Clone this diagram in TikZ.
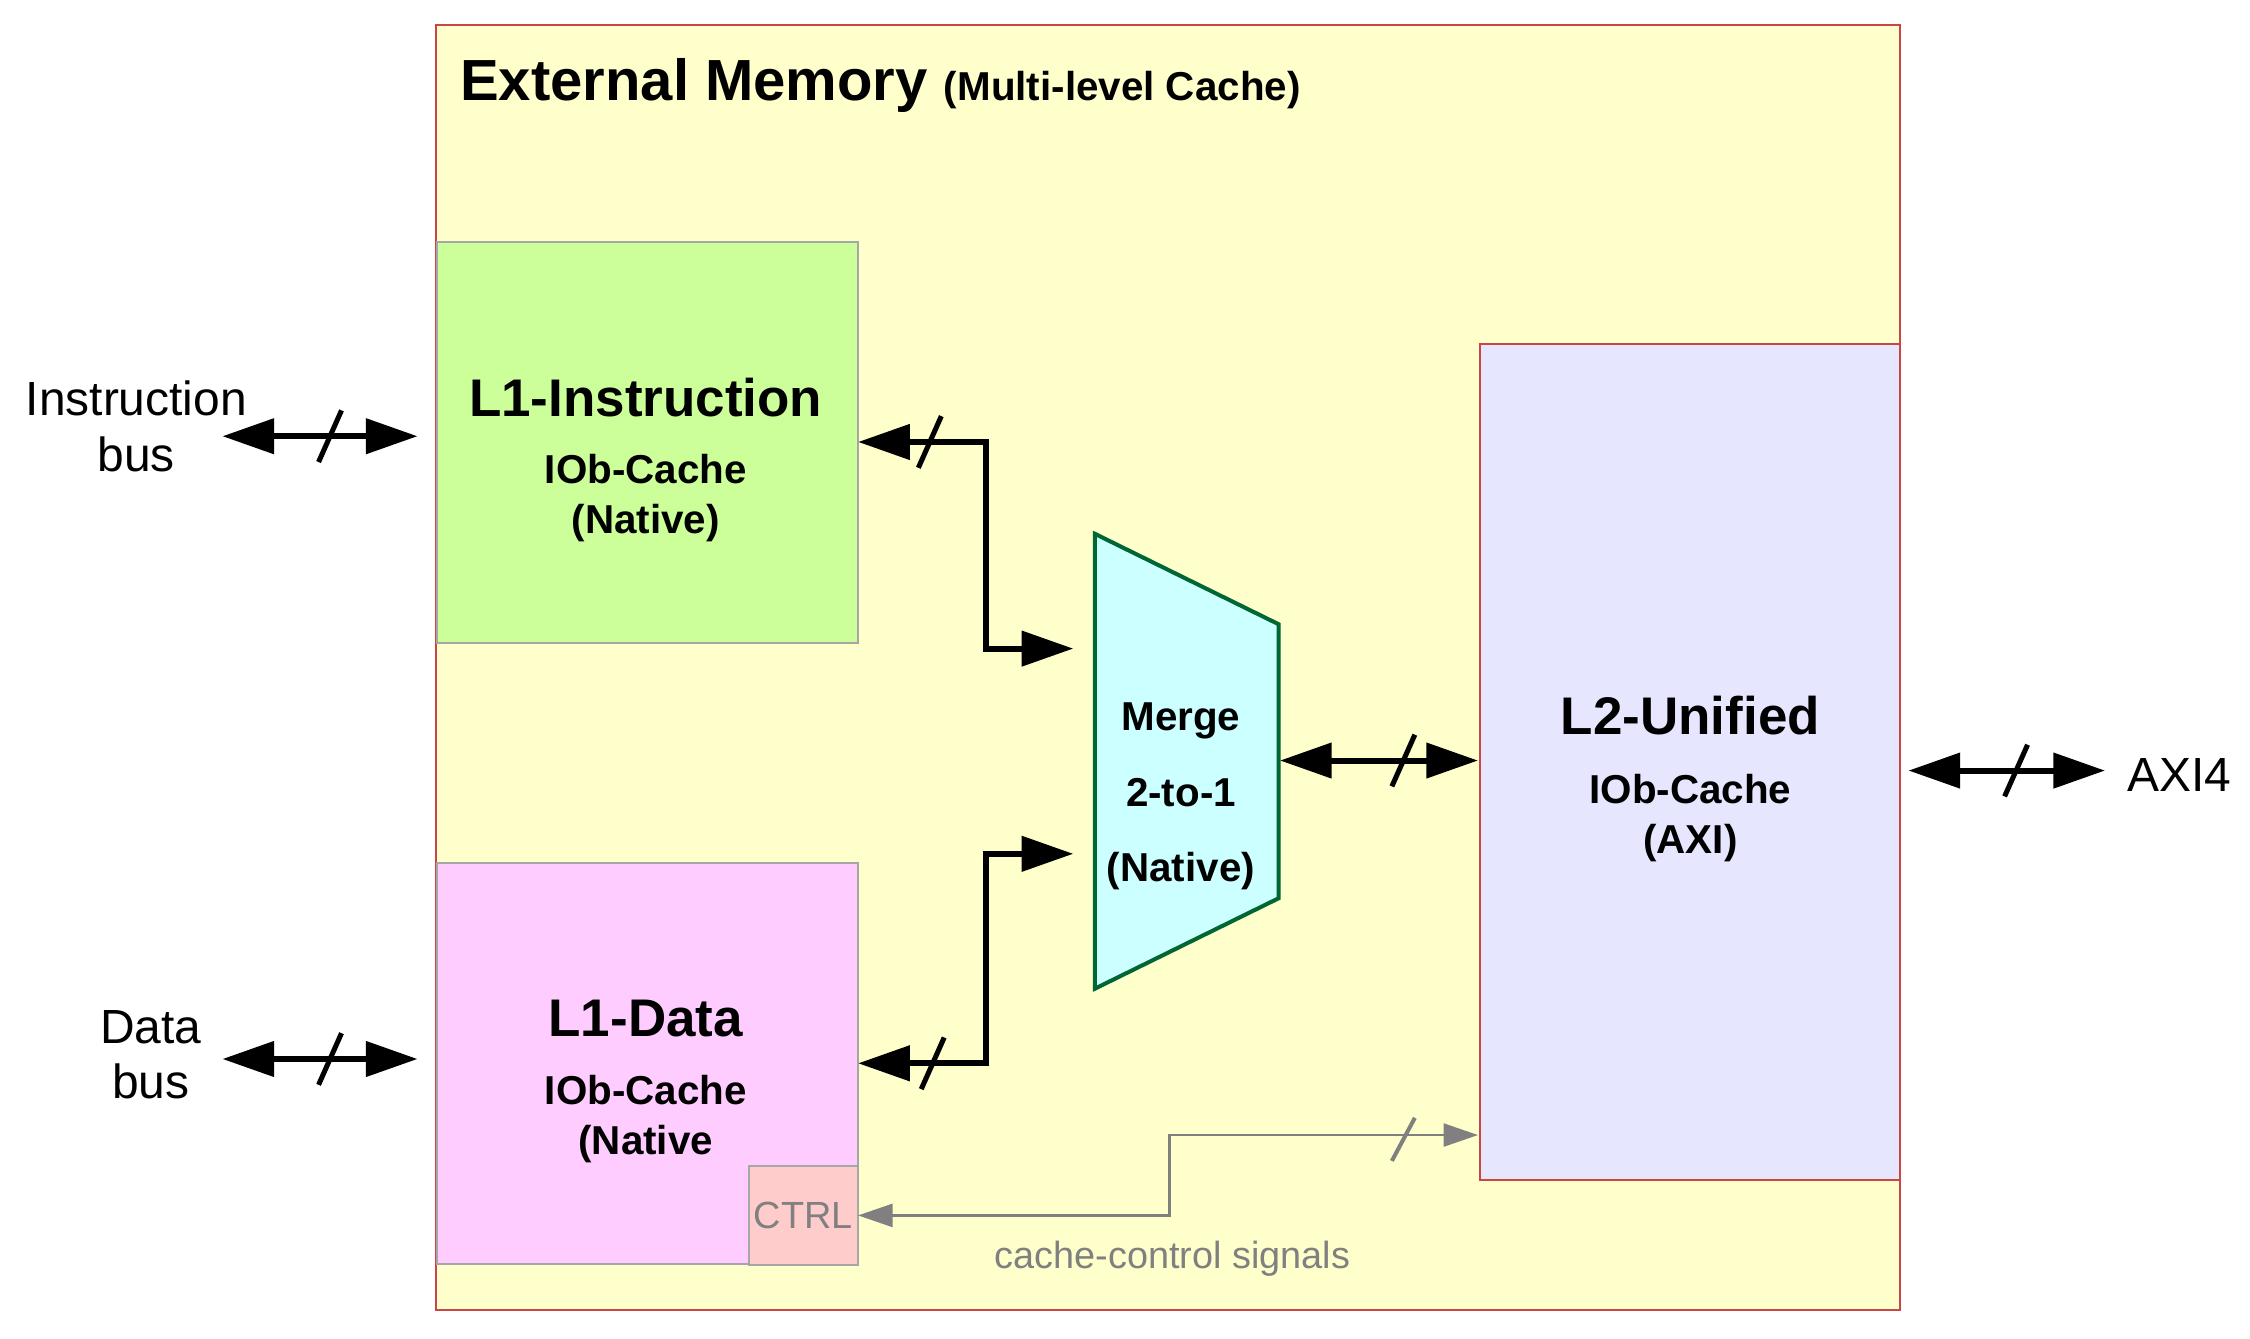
\documentclass[tikz,border=0pt]{standalone}
\usepackage{fontspec}
\setmainfont{Liberation Sans}
\usetikzlibrary{arrows.meta}
\definecolor{ybg}{HTML}{FFFFCC}
\definecolor{l1i}{HTML}{CCFF99}
\definecolor{l1d}{HTML}{FFCCFF}
\definecolor{ctrlc}{HTML}{FFCCCC}
\definecolor{mrg}{HTML}{CCFFFF}
\definecolor{l2c}{HTML}{E6E6FF}
\definecolor{redb}{HTML}{CC4444}
\definecolor{grn}{HTML}{006633}
\tikzset{
 bus/.style={line width=1.2pt,{Triangle[length=3.6mm,width=2.4mm]}-{Triangle[length=3.6mm,width=2.4mm]}},
 ctl/.style={gray,line width=0.5pt},
 blk/.style={draw=gray!70,line width=0.4pt,minimum width=2.93cm,minimum height=2.79cm,anchor=north west},
 big/.style={font=\bfseries\fontsize{10.5}{12}\selectfont},
 mid/.style={font=\bfseries\fontsize{8}{9}\selectfont},
 lbl/.style={font=\fontsize{9.5}{11}\selectfont,align=center}
}
\begin{document}
\begin{tikzpicture}[x=0.01cm,y=-0.01cm]
\useasboundingbox (0,0) rectangle (1568,932.5);
\node[draw=redb,line width=0.4pt,fill=ybg,minimum width=10.2cm,minimum height=8.95cm,anchor=north west,inner sep=0] (ext) at (303,17) {};
\node[anchor=base west,inner sep=0,font=\bfseries\fontsize{11.5}{13}\selectfont] (title) at (320,70) {External Memory \fontsize{8}{9}\selectfont(Multi-level Cache)};
\node[blk,fill=l1i,inner sep=0] (l1i) at (304,168) {};
\node[big] (l1it) at (450,277) {L1-Instruction};
\node[mid,align=center] (l1is) at (450,347) {IOb-Cache\\[1pt](Native)};
\node[blk,fill=l1d,inner sep=0] (l1d) at (304,601) {};
\node[big] (l1dt) at (450,710) {L1-Data};
\node[mid,align=center] (l1ds) at (450,780) {IOb-Cache\\[1pt](Native};
\node[draw=gray!70,fill=ctrlc,line width=0.4pt,minimum width=0.76cm,minimum height=0.69cm,anchor=north west,inner sep=0,text=gray,font=\fontsize{7.5}{9}\selectfont] (ctrl) at (521,812) {CTRL};
\draw[draw=grn,fill=mrg,line width=0.8pt] (763,372) -- (891,435) -- (891,626) -- (763,689) -- cycle;
\node[mid,align=center] (mt) at (823,555) {Merge\\[6pt]2-to-1\\[6pt](Native)};
\node[draw=redb,fill=l2c,line width=0.4pt,minimum width=2.92cm,minimum height=5.82cm,anchor=north west,inner sep=0] (l2) at (1031,239) {};
\node[big] (l2t) at (1178,499) {L2-Unified};
\node[mid,align=center] (l2s) at (1178,570) {IOb-Cache\\[1pt](AXI)};
% labels
\node[lbl] (ib) at (95,297) {Instruction\\bus};
\node[lbl] (db) at (105,735) {Data\\bus};
\node[lbl,anchor=west,inner sep=0] (axi) at (1482,540) {AXI4};
\node[text=gray,font=\fontsize{7.5}{9}\selectfont] (ccs) at (817,877) {cache-control signals};
% coordinates
\coordinate (ia) at (155,304); \coordinate (ib2) at (291,304);
\coordinate (da) at (155,738); \coordinate (db2) at (291,738);
\coordinate (ma) at (892,530); \coordinate (mb) at (1030,530);
\coordinate (xa) at (1330,537); \coordinate (xb) at (1467,537);
\coordinate (p1) at (598,308); \coordinate (p2) at (748,452);
\coordinate (q1) at (598,741); \coordinate (q2) at (748,595);
\coordinate (c1) at (1030,791); \coordinate (c2) at (598,847);
\draw[bus] (ia) -- (ib2);
\draw[bus] (da) -- (db2);
\draw[bus] (ma) -- (mb);
\draw[bus] (xa) -- (xb);
\draw[bus] (p1) -- (687,308) -- (687,452) -- (p2);
\draw[bus] (q1) -- (687,741) -- (687,595) -- (q2);
\draw[ctl,{Triangle[length=2.4mm,width=1.6mm]}-{Triangle[length=2.4mm,width=1.6mm]}] (c2) -- (815,847) -- (815,791) -- (c1);
% slashes
\foreach \x/\y in {230/304,230/738,978/530,1405/537,648/308,650/741}
  \draw[line width=1pt] (\x-8,\y+18) -- (\x+8,\y-18);
\draw[ctl,line width=0.8pt] (970,809) -- (986,779);
\end{tikzpicture}
\end{document}
